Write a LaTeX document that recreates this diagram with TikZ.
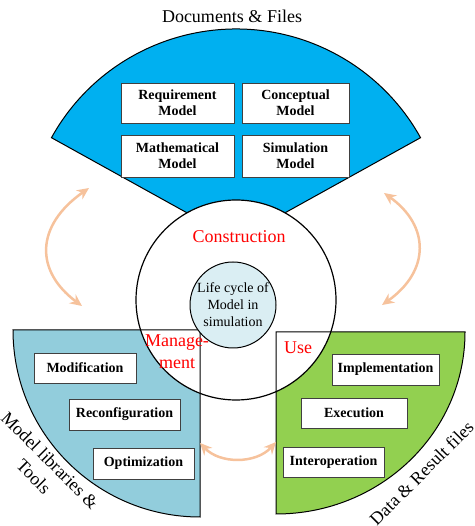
\documentclass[tikz,border=0pt]{standalone}
\usepackage{fontspec}
\setmainfont{Liberation Serif}
\usetikzlibrary{arrows.meta}
\definecolor{docblue}{HTML}{00B0F0}
\definecolor{libblue}{HTML}{92CDDC}
\definecolor{datagreen}{HTML}{92D050}
\definecolor{coreblue}{HTML}{DAEEF3}
\definecolor{loopcolor}{HTML}{F6C29C}
\tikzset{box/.style = {draw=black!75, fill=white, line width=0.8pt, inner sep=0,
                       align=center, font=\bfseries\fontsize{14}{16}\selectfont}}
\tikzset{phase/.style = {text=red, align=center, font=\fontsize{18}{22}\selectfont}}
\tikzset{label/.style = {align=center, font=\fontsize{18}{23}\selectfont}}
\tikzset{cyclearrow/.style = {draw=loopcolor, line width=2.5pt,
                              {Stealth[length=12pt,width=11pt]}-{Stealth[length=12pt,width=11pt]}}}

\begin{document}
\begin{tikzpicture}[x=1pt, y=1pt]
    \useasboundingbox (0, 0) rectangle (474, 526);

    % sectors
    \draw [fill=docblue, line width=1pt] (236, 286) -- +(151:211) arc [start angle=151, end angle=29, radius=211] -- cycle;
    \fill [libblue] (200, 196) -- (13, 196) arc [start angle=180, end angle=270, radius=187] -- cycle;
    \fill [datagreen] (276, 194) -- (465, 194) arc [start angle=0, end angle=-90, x radius=189, y radius=182] -- cycle;

    \draw [fill=white, line width=1.2pt] (236, 226) circle [radius=100];

    \draw [line width=1pt] (200, 196) -- (13, 196) arc [start angle=180, end angle=270, radius=187] -- cycle;
    \draw [line width=1pt] (276, 194) -- (465, 194) arc [start angle=0, end angle=-90, x radius=189, y radius=182] -- cycle;

    \node [circle, draw, fill=coreblue, line width=1pt, minimum size=86pt, inner sep=0,
           align=center, font=\fontsize{14}{17}\selectfont] (core) at (233, 221) {Life cycle of\\Model in\\simulation};

    % texts
    \node [label] (docs) at (232, 510) {Documents \& Files};
    \node [phase] (constr) at (239, 289) {Construction};
    \node [phase] (manage) at (177, 174) {Manage-\\ment};
    \node [phase] (use) at (298, 178) {Use};
    \node [label, rotate=-45] (libs) at (42, 57.5) {Model libraries \&\\Tools};
    \node [label, rotate=45] (data) at (421.5, 53) {Data \& Result files};

    % boxes
    \node [box, minimum width=113pt, minimum height=40pt] (req) at (177.5, 423) {Requirement\\Model};
    \node [box, minimum width=107pt, minimum height=40pt] (concept) at (295.5, 423) {Conceptual\\Model};
    \node [box, minimum width=113pt, minimum height=42pt] (math) at (177.5, 370) {Mathematical\\Model};
    \node [box, minimum width=107pt, minimum height=42pt] (sim) at (295.5, 370) {Simulation\\Model};

    \node [box, minimum width=102pt, minimum height=30pt] (modif) at (85, 158) {Modification};
    \node [box, minimum width=111pt, minimum height=31pt] (reconf) at (124.5, 111.5) {Reconfiguration};
    \node [box, minimum width=101pt, minimum height=31pt] (optim) at (143.5, 62.5) {Optimization};

    \node [box, minimum width=107pt, minimum height=31pt] (impl) at (385.5, 156.5) {Implementation};
    \node [box, minimum width=106pt, minimum height=30pt] (exec) at (354, 113) {Execution};
    \node [box, minimum width=101pt, minimum height=30pt] (interop) at (333.5, 64) {Interoperation};

    % arrows between the sectors
    \coordinate (docs-l) at (89, 338);
    \coordinate (libs-t) at (82, 220);
    \coordinate (docs-r) at (384, 333);
    \coordinate (data-t) at (382, 221);
    \coordinate (libs-r) at (200, 83);
    \coordinate (data-l) at (276, 84);
    \draw [cyclearrow] (docs-l) .. controls (35, 300) and (35, 255) .. (libs-t);
    \draw [cyclearrow] (docs-r) .. controls (430, 300) and (430, 255) .. (data-t);
    \draw [cyclearrow] (libs-r) .. controls (220, 62) and (256, 62) .. (data-l);
\end{tikzpicture}
\end{document}
